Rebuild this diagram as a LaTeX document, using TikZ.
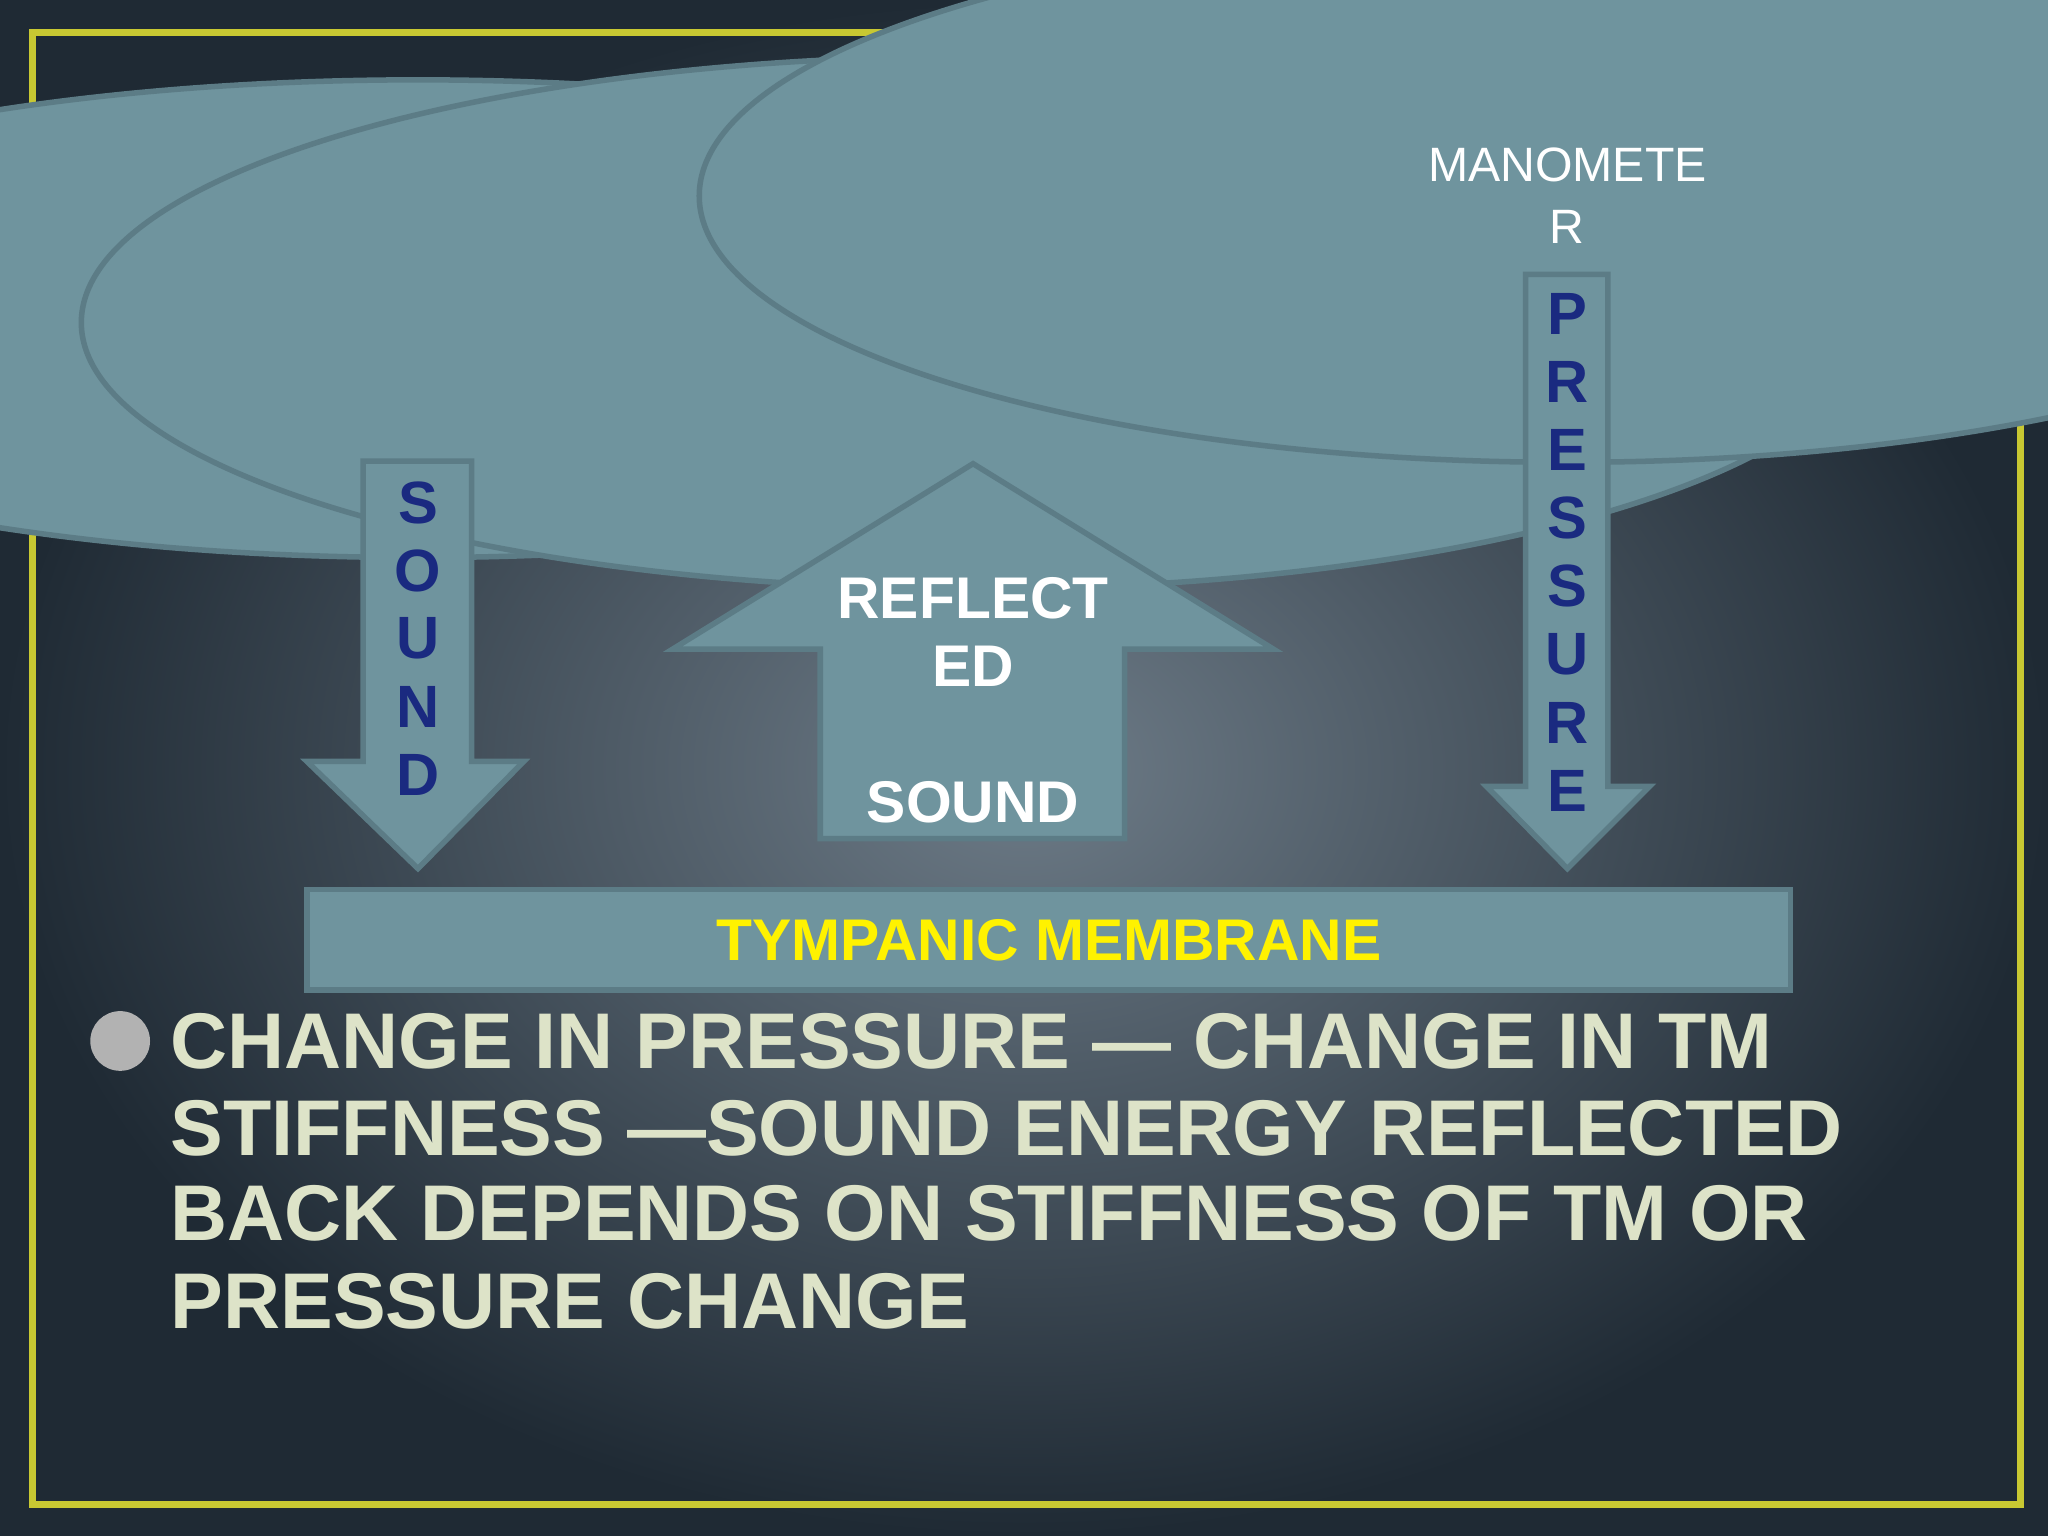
\documentclass[tikz,border=0pt]{standalone}
\usepackage{fontspec}
\setmainfont{Liberation Sans}
\usetikzlibrary{shadows,shapes.geometric}
\definecolor{shpc}{HTML}{6F949E}
\definecolor{shpd}{HTML}{5C7C86}
\definecolor{ltr}{HTML}{1A2A80}
\definecolor{cream}{HTML}{DDE3C8}
\definecolor{bgin}{HTML}{6E7C88}
\definecolor{bgout}{HTML}{1F2A34}
\definecolor{frm}{HTML}{C8C832}
\tikzset{
 shpbox/.style={fill=shpc,draw=shpd,line width=1.2},
 ell/.style={shpbox,ellipse,inner sep=0},
 ltrs/.style={text=ltr,font=\fontsize{13}{14}\selectfont\bfseries},
 wht/.style={text=white,font=\fontsize{12.8}{14}\selectfont\bfseries},
 etx/.style={text=white,font=\fontsize{10.5}{13.5}\selectfont,align=center},
 bul/.style={text=cream,font=\fontsize{17.2}{19}\selectfont\bfseries,anchor=base west,inner sep=0}
}
\begin{document}
\begin{tikzpicture}[x=0.01cm,y=-0.01cm]
\shade[inner color=bgin,outer color=bgout] (0,0) rectangle (1568,1176);
\useasboundingbox (0,0) rectangle (1568,1176);
\draw[frm,line width=1.5] (25,25) rectangle (1547,1152);
\node[anchor=base west,inner sep=0,text=white,font=\fontsize{24.5}{26}\selectfont,
 drop shadow={shadow xshift=0.6pt,shadow yshift=-0.6pt,fill=black,opacity=0.7}] (title) at (95,145) {TYMPANOMETRY (DEF)};
\node[ell,minimum width=376,minimum height=104] (probe) at (320,244) {};
\node[etx] at (probe) {PROBE\\TONE};
\node[ell,minimum width=390,minimum height=116] (amp) at (748,247) {};
\node[etx] at (amp) {AMPLIFIER};
\node[ell,minimum width=378,minimum height=116] (mano) at (1200,150) {};
\node[etx] at (mano) {MANOMETE\\R};
% sound arrow
\draw[shpbox] (278,353) -- (361,353) -- (361,583) -- (401,583) -- (320,665) -- (235,583) -- (278,583) -- cycle;
\foreach \l [count=\i] in {S,O,U,N,D} \node[ltrs] (s\i) at (320,385+52*\i-52) {\l};
% pressure arrow
\draw[shpbox] (1168,210) -- (1231,210) -- (1231,602) -- (1263,602) -- (1200,665) -- (1138,602) -- (1168,602) -- cycle;
\foreach \l [count=\i] in {P,R,E,S,S,U,R,E} \node[ltrs] (p\i) at (1200,240+52.2*\i-52.2) {\l};
% reflected arrow
\draw[shpbox] (745,355) -- (975,497) -- (861,497) -- (861,642) -- (628,642) -- (628,497) -- (515,497) -- cycle;
\node[wht] (r1) at (745,458) {REFLECT};
\node[wht] (r2) at (745,510) {ED};
\node[wht] (r3) at (745,614) {SOUND};
% TM
\draw[shpbox] (235,681) rectangle (1371,758);
\node[text=yellow,font=\fontsize{12.8}{14}\selectfont\bfseries] (tm) at (803,720) {TYMPANIC MEMBRANE};
% bullet
\node[circle,fill=gray!60,inner sep=0,minimum size=13] (dot) at (92,797) {};
\node[bul] (l1) at (130,818) {CHANGE IN PRESSURE --- CHANGE IN TM};
\node[bul] (l2) at (130,885) {STIFFNESS ---SOUND ENERGY REFLECTED};
\node[bul] (l3) at (130,950) {BACK DEPENDS ON STIFFNESS OF TM OR};
\node[bul] (l4) at (130,1017) {PRESSURE CHANGE};
\end{tikzpicture}
\end{document}
